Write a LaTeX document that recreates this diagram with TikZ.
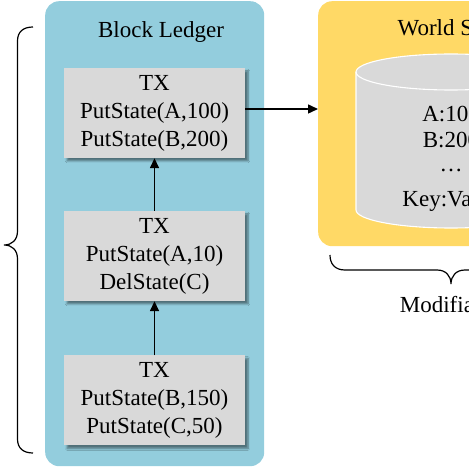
\documentclass[tikz,border=0pt]{standalone}
\usepackage{fontspec}
\setmainfont{Liberation Serif}
\usetikzlibrary{arrows.meta,shadows.blur}
\definecolor{ledgerblue}{HTML}{93CDDD}
\definecolor{stateyellow}{HTML}{FFD966}
\definecolor{boxgray}{HTML}{D9D9D9}
\tikzset{
  txt/.style={font=\fontsize{23}{28}\selectfont, text=black, inner sep=0pt},
  txbox/.style={txt, fill=boxgray, minimum width=181pt, minimum height=90pt, align=center,
    blur shadow={shadow xshift=3pt, shadow yshift=-3pt, shadow opacity=45, shadow blur steps=6}},
  link/.style={line width=1.5pt, -{Triangle[length=10pt,width=9pt]}},
  bracepath/.style={line width=1.2pt, black},
}
\begin{document}
\begin{tikzpicture}[x=1pt,y=1pt]
\useasboundingbox (0,0) rectangle (469,469);
\clip (0,0) rectangle (469,469);
% panels
\node[fill=ledgerblue, rounded corners=14pt, minimum width=219pt, minimum height=465pt, anchor=north west, inner sep=0pt] (bl) at (45,468) {};
\node[fill=stateyellow, rounded corners=14pt, minimum width=302pt, minimum height=245pt, anchor=north west, inner sep=0pt] (ws) at (318,468) {};
\node[txt, anchor=base] (bltitle) at (161,431) {Block Ledger};
\node[txt, anchor=base] (wstitle) at (452,433) {World State};
% transaction boxes
\node[txbox] (tx1) at (154.5,356) {TX\\PutState(A,100)\\PutState(B,200)};
\node[txbox] (tx2) at (154.5,213) {TX\\PutState(A,10)\\DelState(C)};
\node[txbox] (tx3) at (154.5,68.5) {TX\\PutState(B,150)\\PutState(C,50)};
\draw[link] (tx2.north) -- (tx1.south);
\draw[link] (tx3.north) -- (tx2.south);
\draw[link] ([yshift=4pt]tx1.east) -- ([yshift=4pt]tx1.east -| ws.west);
% database cylinder
\fill[boxgray] (356,397) rectangle (546,259);
\fill[boxgray] (451,259) ellipse [x radius=95, y radius=18];
\fill[boxgray] (451,397) ellipse [x radius=95, y radius=18];
\draw[white, line width=1.1pt] (451,397) ellipse [x radius=95, y radius=18];
\draw[white, line width=1.1pt] (356,397) -- (356,259) arc[start angle=180, end angle=360, x radius=95, y radius=18] -- (546,397);
\node[txt, anchor=base] (kv1) at (451,347) {A:100};
\node[txt, anchor=base] (kv2) at (451,321) {B:200};
\node[txt, anchor=base] (kv3) at (451,297) {…};
\node[txt, anchor=base] (kv4) at (451,262) {Key:Value};
% braces
\draw[bracepath] (33,442) .. controls (23,442) and (17.5,437) .. (17.5,428) -- (17.5,238)
  .. controls (17.5,229) and (12,224) .. (4,224)
  .. controls (12,224) and (17.5,219) .. (17.5,210) -- (17.5,30)
  .. controls (17.5,21) and (23,16) .. (33,16);
\draw[bracepath] (330,214) .. controls (330,205) and (335,199) .. (345,199) -- (437,199)
  .. controls (446,199) and (451,193) .. (451,185)
  .. controls (451,193) and (456,199) .. (465,199) -- (557,199)
  .. controls (567,199) and (572,205) .. (572,214);
\node[txt, anchor=base] (mod) at (451,156) {Modifiable};
\end{tikzpicture}
\end{document}
